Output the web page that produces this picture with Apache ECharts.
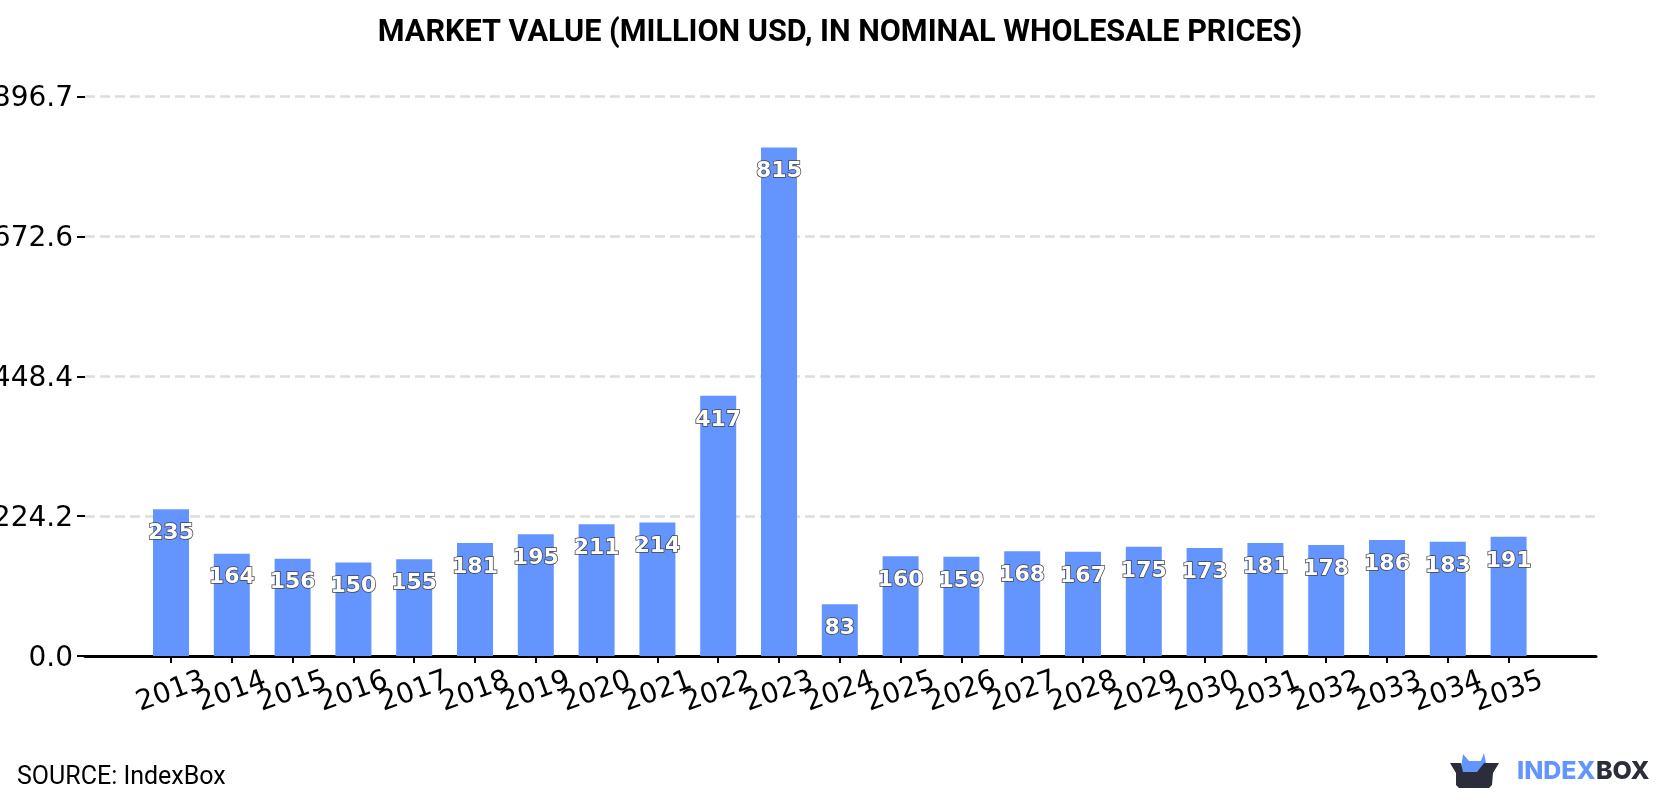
<!DOCTYPE html>
<html>
<head>
<meta charset="utf-8">
<title>Market Value</title>
<script src="https://cdn.jsdelivr.net/npm/echarts@6/dist/echarts.min.js"></script>
<style>
  html, body { margin: 0; padding: 0; background: #fff; }
  #chart { width: 1680px; height: 800px; }
</style>
</head>
<body>
<div id="chart"></div>
<script>
const years = ['2013', '2014', '2015', '2016', '2017', '2018', '2019', '2020', '2021', '2022', '2023', '2024',
               '2025', '2026', '2027', '2028', '2029', '2030', '2031', '2032', '2033', '2034', '2035'];
const marketValues = [235, 164, 156, 150, 155, 181, 195, 211, 214, 417, 815, 83,
                      160, 159, 168, 167, 175, 173, 181, 178, 186, 183, 191];
const yTickValues = [0, 224.175, 448.35, 672.525, 896.7];
const yTickLabels = ['0.0', '224.2', '448.4', '672.6', '896.7'];

const titleText = 'MARKET VALUE (MILLION USD, IN NOMINAL WHOLESALE PRICES)';
const sourceText = 'SOURCE: IndexBox';

const BLUE = '#6495ff';
const DARK = '#2b2d3a';
const DEJAVU = '"DejaVu Sans", sans-serif';
const Y_MAX = yTickValues[yTickValues.length - 1];

const chart = echarts.init(document.getElementById('chart'), null, { renderer: 'canvas' });

chart.setOption({
  animation: false,
  backgroundColor: '#ffffff',
  // The outer grid carries the long baseline and the gridlines; the inner one holds the bars.
  grid: [
    { left: 85, right: 84, top: 96.5, bottom: 144, containLabel: false, outerBoundsMode: 'none' },
    { left: 140.6, right: 141, top: 96.5, bottom: 144, containLabel: false, outerBoundsMode: 'none' }
  ],
  title: {
    text: titleText,
    left: 'center', top: 13,
    textStyle: { fontFamily: 'Roboto', fontWeight: 'bold', fontSize: 30.6, color: '#000' }
  },
  xAxis: [
    {
      gridIndex: 0,
      type: 'value',
      min: 0, max: 1,
      splitLine: { show: false },
      axisLine: { show: true, onZero: true, lineStyle: { color: '#000', width: 3 } },
      axisTick: { show: false },
      axisLabel: { show: false }
    },
    {
      gridIndex: 1,
      type: 'category',
      data: years,
      axisLine: { show: false },
      axisTick: { show: true, alignWithLabel: true, interval: 0, length: 7, lineStyle: { color: '#000', width: 2 } },
      axisLabel: {
        show: true,
        interval: 0,
        rotate: 20,
        align: 'center',
        verticalAlign: 'middle',
        margin: 36,
        fontFamily: DEJAVU,
        fontSize: 28,
        color: '#000'
      }
    }
  ],
  yAxis: [
    {
      gridIndex: 0,
      type: 'value',
      min: 0,
      max: Y_MAX,
      axisLine: { show: false },
      axisTick: { show: true, customValues: yTickValues, length: 8, lineStyle: { color: '#000', width: 2 } },
      axisLabel: {
        show: true,
        customValues: yTickValues,
        margin: 12,
        color: '#000',
        formatter: (v) => '{t|' + yTickLabels[yTickValues.indexOf(v)] + '}',
        // the top padding sets the tick text slightly below its tick
        rich: {
          t: { fontFamily: DEJAVU, fontSize: 28, color: '#000', padding: [5, 0, 0, 0] }
        }
      },
      splitLine: {
        show: true,
        customValues: yTickValues,
        lineStyle: { color: '#dddddd', width: 2.5, type: [10, 5] }
      }
    },
    {
      gridIndex: 1,
      type: 'value',
      min: 0,
      max: Y_MAX,
      show: false,
      splitLine: { show: false }
    }
  ],
  series: [{
    type: 'bar',
    xAxisIndex: 1,
    yAxisIndex: 1,
    barWidth: 36,
    itemStyle: { color: BLUE },
    data: marketValues,
    z: 3,
    label: {
      show: true,
      position: 'insideTop',
      distance: 13,
      fontFamily: DEJAVU,
      fontWeight: 'bold',
      fontSize: 22,
      color: '#fff',
      textBorderColor: '#444',
      textBorderWidth: 1.5
    },
    labelLayout: { hideOverlap: false }
  }],
  graphic: [
    {
      type: 'text', left: 17, top: 765,
      style: { text: sourceText, fontFamily: 'Roboto', fontSize: 25, fill: '#000' }
    },
    // brand mark: crown rising out of an open box
    {
      type: 'polygon',
      shape: { points: [[1461, 768], [1463, 754], [1469, 761], [1481, 761], [1484, 753], [1487, 768], [1476, 773], [1463, 773]] },
      style: { fill: BLUE }
    },
    {
      type: 'polygon',
      shape: { points: [[1450, 763], [1461, 763], [1463, 772], [1477, 772], [1484, 763], [1499, 763], [1493, 773], [1492, 785], [1489, 788], [1459, 788], [1456, 785], [1456, 773]] },
      style: { fill: DARK }
    },
    {
      type: 'text', left: 1517, top: 759,
      style: { text: 'INDEX', fontFamily: 'Inter', fontWeight: 800, fontSize: 25, fill: BLUE }
    },
    {
      type: 'text', left: 1596, top: 759,
      style: { text: 'BOX', fontFamily: 'Inter', fontWeight: 800, fontSize: 25, fill: DARK }
    }
  ]
});
</script>
</body>
</html>
